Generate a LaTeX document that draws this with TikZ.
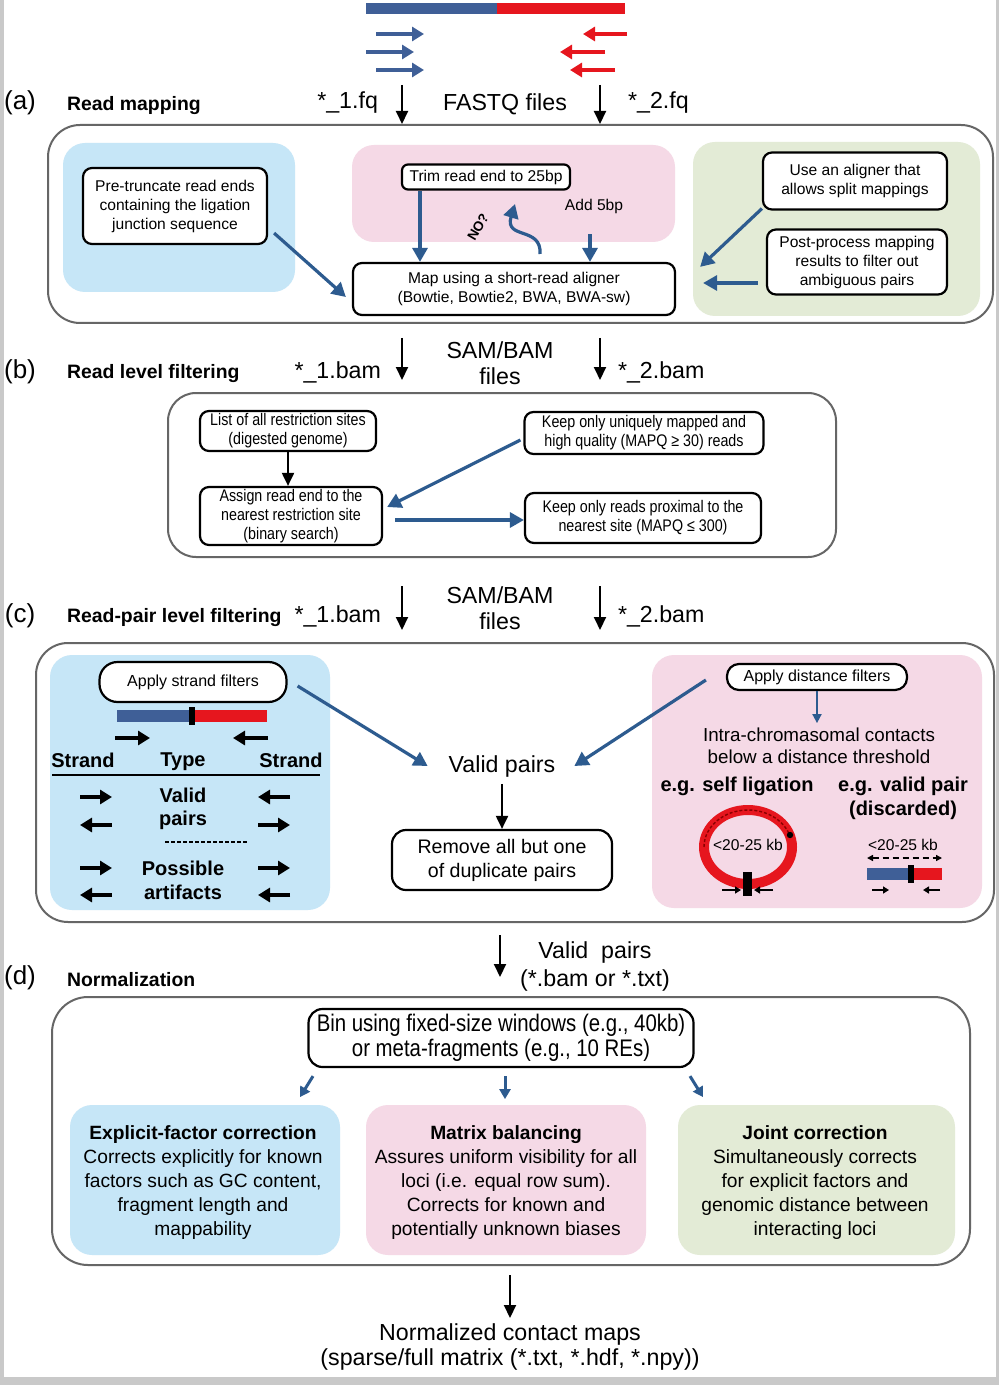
\documentclass[tikz,border=0pt]{standalone}
\usepackage{fontspec}
\setmainfont{Liberation Sans}
\newfontfamily\condfont[FakeStretch=0.85]{Liberation Sans}
\usetikzlibrary{arrows.meta}
\definecolor{panelblue}{HTML}{C6E6F7}
\definecolor{panelpink}{HTML}{F5D9E6}
\definecolor{panelgreen}{HTML}{E3EBD6}
\definecolor{arrowblue}{HTML}{2D5B8F}
\definecolor{barblue}{HTML}{3F5F97}
\definecolor{barred}{HTML}{E6161E}
\definecolor{framegray}{HTML}{C9C9C9}
\newcommand{\labfont}{\fontsize{13}{15}\selectfont}
\newcommand{\titfont}{\fontsize{9.7}{11}\selectfont\bfseries}
\newcommand{\filefont}{\fontsize{11.6}{13}\selectfont}
\newcommand{\boxfont}{\fontsize{7.8}{9.5}\selectfont}
\newcommand{\panfont}{\fontsize{9.6}{12}\selectfont}
\newcommand{\panbold}{\fontsize{10}{12}\selectfont\bfseries}
\tikzset{
  outerbox/.style={draw=black!60, line width=1pt, fill=white, rounded corners=16pt},
  panel/.style={rounded corners=11pt},
  stepbox/.style={draw, line width=1.1pt, fill=white, rounded corners=4.5pt, align=center, inner sep=0.5pt, font=\boxfont},
  filterbox/.style={stepbox, font=\condfont\fontsize{8.4}{9.4}\selectfont},
  pillbox/.style={stepbox, rounded corners=9pt, font=\fontsize{8}{9.5}\selectfont},
  blk/.style={-{Triangle[length=6.5pt,width=6pt]}, line width=1pt},
  blu/.style={-{Triangle[length=7pt,width=7.5pt]}, line width=1.6pt, arrowblue},
  blushort/.style={-{Triangle[length=5pt,width=5.5pt]}, line width=1.5pt, arrowblue},
  bluthin/.style={-{Triangle[length=4.5pt,width=4.5pt]}, line width=0.9pt, arrowblue},
  readblue/.style={-{Triangle[length=6pt,width=7pt]}, line width=1.8pt, barblue},
  readred/.style={-{Triangle[length=6pt,width=7pt]}, line width=1.8pt, barred},
  strandarrow/.style={-{Triangle[length=6pt,width=7pt]}, line width=1.8pt},
  tinyarrow/.style={-{Triangle[length=3pt,width=3.5pt]}, line width=0.8pt},
}
\begin{document}
\begin{tikzpicture}[x=0.5pt,y=-0.5pt]
\useasboundingbox (0,0) rectangle (999,1385);
\fill[framegray] (0,0) rectangle (999,1385);
\fill[white] (4,0) rectangle (996,1377);

% reads on the ligation product
\fill[barblue] (366,3) rectangle (497,14);
\fill[barred] (497,3) rectangle (625,14);
\foreach \xa/\xb/\y in {376/424/34,366/414/52,376/424/70} {
\draw[readblue] (\xa,\y) -- (\xb,\y);
}
\foreach \xa/\xb/\y in {627/583/34,605/560/52,615/570/70} {
\draw[readred] (\xa,\y) -- (\xb,\y);
}

% (a)
\node[font=\labfont] (laba) at (20,103) {(a)};
\node[font=\titfont, anchor=west] (tita) at (60,106) {Read mapping};
\node[font=\filefont, anchor=east] (fqone) at (385,103) {*\_1.fq};
\node[font=\filefont] (fastq) at (505,104) {FASTQ files};
\node[font=\filefont, anchor=west] (fqtwo) at (621,103) {*\_2.fq};
\node[outerbox, minimum width=472.5pt, minimum height=99pt] (outa) at (520.5,224) {};
\coordinate (fa) at (402,85);
\coordinate (fb) at (600,85);
\draw[blk] (fa) -- (fa |- outa.north);
\draw[blk] (fb) -- (fb |- outa.north);
\node[panel, fill=panelblue, minimum width=116pt, minimum height=74.5pt] (pana) at (179,217.5) {};
\node[panel, fill=panelpink, minimum width=161.5pt, minimum height=48.5pt] (panb) at (513.5,193.5) {};
\node[panel, fill=panelgreen, minimum width=143.5pt, minimum height=87pt] (panc) at (836.5,229) {};
\node[stepbox, minimum width=92pt, minimum height=38pt] (pretrunc) at (175,206) {Pre-truncate read ends\\containing the ligation\\junction sequence};
\node[stepbox, rounded corners=3pt, minimum width=84pt, minimum height=12.5pt] (trim) at (486,177) {Trim read end to 25bp};
\node[stepbox, minimum width=161pt, minimum height=26pt] (map) at (514,289) {Map using a short-read aligner\\(Bowtie, Bowtie2, BWA, BWA-sw)};
\node[stepbox, minimum width=92pt, minimum height=28.5pt] (useal) at (855,181) {Use an aligner that\\allows split mappings};
\node[stepbox, minimum width=90pt, minimum height=32.5pt] (postproc) at (857,262) {Post-process mapping\\results to filter out\\ambiguous pairs};
\node[font=\boxfont] (addfive) at (594,206) {Add 5bp};
\node[font=\fontsize{6.8}{8}\selectfont\bfseries, rotate=60, inner sep=0.5pt] (noq) at (478,227) {NO?};
\draw[blu] ([xshift=-33pt]trim.south) -- ([xshift=-33pt]trim.south |- map.north);
\draw[blu] ([xshift=-2pt,yshift=-7pt]addfive.south) -- ([xshift=-2pt]addfive.south |- map.north);
\coordinate (loopa) at (540,254);
\coordinate (loopb) at (515,204);
\draw[blu] (loopa) .. controls (542,226) and (504,240) .. (loopb);
\draw[blu] ([xshift=3pt,yshift=6pt]pretrunc.south east) -- ([xshift=-3pt,yshift=-4pt]map.west);
\draw[blu] ([yshift=1pt]useal.south west) -- ([xshift=12pt,yshift=-2.5pt]map.north east);
\draw[blu] ([xshift=-4pt,yshift=-10.5pt]postproc.west) -- ([xshift=13.5pt,yshift=-10.5pt]postproc.west -| map.east);

% (b)
\node[font=\labfont] (labb) at (20,372) {(b)};
\node[font=\titfont, anchor=west] (titb) at (60,374) {Read level filtering};
\foreach \xf in {402,600} {
\coordinate (bf) at (\xf,338);
\draw[blk] (bf) -- ++(0,42);
}
\node[font=\filefont, align=center] (samb) at (500,363) {SAM/BAM\\files};
\node[font=\filefont, anchor=east] (bamone) at (388,372) {*\_1.bam};
\node[font=\filefont, anchor=west] (bamtwo) at (611,372) {*\_2.bam};
\node[outerbox, rounded corners=14pt, minimum width=334pt, minimum height=82pt] (outb) at (502,475) {};
\node[filterbox, minimum width=88pt, minimum height=20pt] (sites) at (288,431) {List of all restriction sites\\(digested genome)};
\node[filterbox, minimum width=91pt, minimum height=29pt] (assign) at (291,516) {Assign read end to the\\nearest restriction site\\(binary search)};
\node[filterbox, minimum width=119.5pt, minimum height=21pt] (uniq) at (644,433) {Keep only uniquely mapped and\\high quality (MAPQ ≥ 30) reads};
\node[filterbox, minimum width=118pt, minimum height=25pt] (prox) at (643,518) {Keep only reads proximal to the\\nearest site (MAPQ ≤ 300)};
\draw[blk] (sites.south) -- (sites.south |- assign.north);
\draw[blu] ([xshift=-1.5pt,yshift=-3.5pt]uniq.west) -- ([xshift=2pt,yshift=4.5pt]assign.east);
\draw[blu] ([xshift=6pt,yshift=-2pt]assign.east) -- ([yshift=-2pt]assign.east -| prox.west);

% (c)
\node[font=\labfont] (labc) at (20,616) {(c)};
\node[font=\titfont, anchor=west] (titc) at (60,618) {Read-pair level filtering};
\foreach \xf in {402,600} {
\coordinate (cf) at (\xf,586);
\draw[blk] (cf) -- ++(0,44);
}
\node[font=\filefont, align=center] (samc) at (500,608) {SAM/BAM\\files};
\node[font=\filefont, anchor=east] (bamthree) at (388,616) {*\_1.bam};
\node[font=\filefont, anchor=west] (bamfour) at (611,616) {*\_2.bam};
\node[outerbox, minimum width=479pt, minimum height=139.5pt] (outc) at (515,782.5) {};
\node[panel, fill=panelblue, minimum width=140pt, minimum height=127.5pt] (pand) at (190,782.5) {};
\node[panel, fill=panelpink, minimum width=165pt, minimum height=126.5pt] (pane) at (817,781.5) {};
% strand filter table
\node[pillbox, minimum width=93.5pt, minimum height=20pt] (strand) at (193,682) {Apply strand filters};
\fill[barblue] (117,710) rectangle (192,722);
\fill[barred] (195,710) rectangle (267,722);
\fill (189,707) rectangle (195,725);
\draw[strandarrow] (115,738) -- (150,738);
\draw[strandarrow] (268,738) -- (233,738);
\node[font=\panbold] (strandl) at (83,760) {Strand};
\node[font=\panbold] (typeh) at (183,762) {Type};
\node[font=\panbold] (strandr) at (291,760) {Strand};
\draw[line width=1pt] (52,775) -- (320,775);
\foreach \y/\dl/\dr in {797/1/-1,825/-1/1,868/1/1,895/-1/-1} {
\draw[strandarrow] ({96-16*(\dl)},\y) -- ({96+16*(\dl)},\y);
\draw[strandarrow] ({274-16*(\dr)},\y) -- ({274+16*(\dr)},\y);
}
\node[font=\panbold] (validt) at (183,795) {Valid};
\node[font=\panbold] (pairst) at (183,820) {pairs};
\draw[line width=1pt, dash pattern=on 2pt off 1pt] (165,842) -- (248,842);
\node[font=\panbold] (possiblet) at (183,868) {Possible};
\node[font=\panbold] (artifactt) at (183,892) {artifacts};
% valid pairs
\node[font=\filefont] (valid) at (502,766) {Valid pairs};
\node[stepbox, rounded corners=7pt, font=\fontsize{9.8}{12}\selectfont, minimum width=110pt, minimum height=30pt] (remove) at (502,860) {Remove all but one\\of duplicate pairs};
\draw[blu] ([xshift=5pt,yshift=-2pt]strand.east) -- ([xshift=-7pt]valid.west);
\draw[blk] (valid.south) -- (remove.north);
% distance filter
\node[pillbox, rounded corners=6pt, minimum width=90pt, minimum height=13pt] (dist) at (817,677) {Apply distance filters};
\draw[blu] ([xshift=-10pt,yshift=-1.5pt]dist.west) -- ([xshift=6pt]valid.east);
\draw[bluthin] (dist.south) -- ++(0,32);
\node[font=\fontsize{9.4}{11}\selectfont, align=center] (intra) at (819,746) {Intra-chromasomal contacts\\below a distance threshold};
\node[font=\panbold] (selflig) at (737,786) {e.g. self ligation};
\node[font=\panbold, align=center] (vpair) at (903,798) {e.g. valid pair\\(discarded)};
\draw[barred, line width=5pt] (748,847) ellipse [x radius=22pt, y radius=18.5pt];
\draw[red!55!black, line width=0.7pt, dash pattern=on 1.5pt off 1pt] (704,847) arc [start angle=180, end angle=15, x radius=22pt, y radius=18.5pt];
\fill (790,835) circle (1.6pt);
\node[font=\fontsize{7.8}{9}\selectfont] (kbring) at (748,845) {<20-25 kb};
\fill (743,872) rectangle (752,896);
\draw[tinyarrow] (722,890) -- (741,890);
\draw[tinyarrow] (773,890) -- (754,890);
\node[font=\fontsize{7.8}{9}\selectfont] (kbline) at (903,845) {<20-25 kb};
\draw[{Triangle[length=3pt,width=3pt]}-{Triangle[length=3pt,width=3pt]}, line width=0.8pt, dash pattern=on 3pt off 2pt] (867,858) -- (942,858);
\fill[barblue] (867,868) rectangle (908,880);
\fill[barred] (914,868) rectangle (942,880);
\fill (908,865) rectangle (914,883);
\draw[tinyarrow] (872,890) -- (889,890);
\draw[tinyarrow] (940,890) -- (923,890);

% (d)
\node[font=\labfont] (labd) at (20,978) {(d)};
\node[font=\titfont, anchor=west] (titd) at (60,980) {Normalization};
\coordinate (da) at (500,935);
\draw[blk] (da) -- ++(0,42);
\node[font=\fontsize{11.6}{14}\selectfont, align=center] (vpd) at (595,966) {Valid~~pairs\\(*.bam or *.txt)};
\node[outerbox, rounded corners=18pt, minimum width=459pt, minimum height=134pt] (outd) at (511,1131) {};
\node[stepbox, font=\condfont\fontsize{12}{12.5}\selectfont, rounded corners=7pt, minimum width=192.5pt, minimum height=29pt] (bin) at (501,1038) {Bin using fixed-size windows (e.g., 40kb)\\or meta-fragments (e.g., 10 REs)};
\draw[blushort] ([xshift=-94pt,yshift=-4pt]bin.south) -- ++(-6.5pt,-10.5pt);
\draw[blushort] ([xshift=2pt,yshift=-4pt]bin.south) -- ++(0,-11.5pt);
\draw[blushort] ([xshift=94.5pt,yshift=-4pt]bin.south) -- ++(6.5pt,-10.5pt);
\node[panel, fill=panelblue, minimum width=135pt, minimum height=75pt] (panf) at (205,1180) {};
\node[panel, fill=panelpink, minimum width=140pt, minimum height=75pt] (pang) at (506,1180) {};
\node[panel, fill=panelgreen, minimum width=138.5pt, minimum height=75pt] (panh) at (816.5,1180) {};
\node[font=\panfont, align=center] (explicit) at (203,1183) {\textbf{Explicit-factor correction}\\Corrects explicitly for known\\factors such as GC content,\\fragment length and\\mappability};
\node[font=\panfont, align=center] (balance) at (506,1183) {\textbf{Matrix balancing}\\Assures uniform visibility for all\\loci (i.e. equal row sum).\\Corrects for known and\\potentially unknown biases};
\node[font=\panfont, align=center] (joint) at (815,1183) {\textbf{Joint correction}\\Simultaneously corrects\\for explicit factors and\\genomic distance between\\interacting loci};
\coordinate (ea) at (510,1275);
\draw[blk] (ea) -- ++(0,43);
\node[font=\fontsize{11.6}{12.5}\selectfont, align=center] (final) at (510,1347) {Normalized contact maps\\(sparse/full matrix (*.txt, *.hdf, *.npy))};

\end{tikzpicture}
\end{document}
